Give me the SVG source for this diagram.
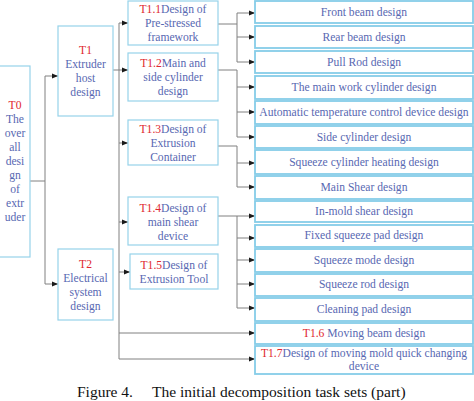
<svg xmlns="http://www.w3.org/2000/svg" width="474" height="401" viewBox="0 0 474 401">
<style>
text{font-family:"Liberation Serif","Times New Roman",serif;font-size:11.6px;fill:#5868b2;text-anchor:middle}
.r{fill:#e0282e}
.lb{fill:#fff;stroke:#96d3ea;stroke-width:1.2}
.rb{fill:#fff;stroke:#86cde8;stroke-width:1.8}
.c{fill:none;stroke:#808080;stroke-width:1}
.cap{fill:#111;font-size:15.5px;text-anchor:start}
</style>
<defs>
<marker id="a" markerUnits="userSpaceOnUse" markerWidth="6" markerHeight="6" refX="6" refY="3" orient="auto">
<path d="M0,0.5 L6,3 L0,5.5 z" fill="#1a1a1a"/>
</marker>
</defs>
<rect width="474" height="401" fill="#fff"/>
<g id="connectors">
<path class="c" d="M30,181 H45 M45,76 V284"/>
<path class="c" marker-end="url(#a)" d="M45,76 H58"/>
<path class="c" marker-end="url(#a)" d="M45,284 H58"/>
<path class="c" d="M113,70 H119 M119,23 V359"/>
<path class="c" marker-end="url(#a)" d="M119,23 H128"/>
<path class="c" marker-end="url(#a)" d="M119,70 H128"/>
<path class="c" marker-end="url(#a)" d="M119,143 H128"/>
<path class="c" marker-end="url(#a)" d="M119,222 H128"/>
<path class="c" marker-end="url(#a)" d="M119,272 H130"/>
<path class="c" marker-end="url(#a)" d="M119,333 H255"/>
<path class="c" marker-end="url(#a)" d="M119,359 H255"/>
<path class="c" d="M218,24 H237 M237,13 V62"/>
<path class="c" marker-end="url(#a)" d="M237,13 H255"/>
<path class="c" marker-end="url(#a)" d="M237,37 H255"/>
<path class="c" marker-end="url(#a)" d="M237,62 H255"/>
<path class="c" d="M218,70 H237 V137"/>
<path class="c" marker-end="url(#a)" d="M237,87 H255"/>
<path class="c" marker-end="url(#a)" d="M237,112 H255"/>
<path class="c" marker-end="url(#a)" d="M237,137 H255"/>
<path class="c" d="M218,146 H237 V187"/>
<path class="c" marker-end="url(#a)" d="M237,163 H255"/>
<path class="c" marker-end="url(#a)" d="M237,187 H255"/>
<path class="c" d="M237,216 V308"/>
<path class="c" marker-end="url(#a)" d="M218,216 H255"/>
<path class="c" marker-end="url(#a)" d="M237,238 H255"/>
<path class="c" marker-end="url(#a)" d="M237,260 H255"/>
<path class="c" marker-end="url(#a)" d="M237,284 H255"/>
<path class="c" marker-end="url(#a)" d="M237,308 H255"/>
</g>
<g id="T0">
<rect class="lb" x="-1" y="66" width="31" height="191"/>
<text x="15" y="109"><tspan class="r">T0</tspan></text>
<text x="15" y="123">The</text>
<text x="15" y="137">over</text>
<text x="15" y="151">all</text>
<text x="15" y="165">desi</text>
<text x="15" y="179">gn</text>
<text x="15" y="193">of</text>
<text x="15" y="207">extr</text>
<text x="15" y="221">uder</text>
</g>
<g id="T1">
<rect class="lb" x="58" y="26" width="55" height="90"/>
<text x="85.5" y="54"><tspan class="r">T1</tspan></text>
<text x="85.5" y="68">Extruder</text>
<text x="85.5" y="82">host</text>
<text x="85.5" y="96">design</text>
</g>
<g id="T2">
<rect class="lb" x="58" y="249" width="55" height="71"/>
<text x="85.5" y="268"><tspan class="r">T2</tspan></text>
<text x="85.5" y="282">Electrical</text>
<text x="85.5" y="296">system</text>
<text x="85.5" y="310">design</text>
</g>
<g id="T1_1">
<rect class="lb" x="128" y="1" width="90" height="44"/>
<text x="173" y="13"><tspan class="r">T1.1</tspan>Design of</text>
<text x="173" y="27">Pre-stressed</text>
<text x="173" y="41">framework</text>
</g>
<g id="T1_2">
<rect class="lb" x="128" y="53" width="90" height="48"/>
<text x="173" y="67"><tspan class="r">T1.2</tspan>Main and</text>
<text x="173" y="81">side cylinder</text>
<text x="173" y="95">design</text>
</g>
<g id="T1_3">
<rect class="lb" x="128" y="120" width="90" height="45"/>
<text x="173" y="133"><tspan class="r">T1.3</tspan>Design of</text>
<text x="173" y="147">Extrusion</text>
<text x="173" y="161">Container</text>
</g>
<g id="T1_4">
<rect class="lb" x="128" y="197" width="90" height="48"/>
<text x="173" y="212"><tspan class="r">T1.4</tspan>Design of</text>
<text x="173" y="226">main shear</text>
<text x="173" y="240">device</text>
</g>
<g id="T1_5">
<rect class="lb" x="130" y="254" width="88" height="35"/>
<text x="174" y="269"><tspan class="r">T1.5</tspan>Design of</text>
<text x="174" y="283">Extrusion Tool</text>
</g>
<g id="R1"><rect class="rb" x="255" y="1" width="218" height="22"/><text x="364" y="16">Front beam design</text></g>
<g id="R2"><rect class="rb" x="255" y="26" width="218" height="22"/><text x="364" y="41">Rear beam design</text></g>
<g id="R3"><rect class="rb" x="255" y="51" width="218" height="22"/><text x="364" y="66">Pull Rod design</text></g>
<g id="R4"><rect class="rb" x="255" y="76" width="218" height="23"/><text x="364" y="91">The main work cylinder design</text></g>
<g id="R5"><rect class="rb" x="255" y="101" width="218" height="23"/><text x="364" y="116">Automatic temperature control device design</text></g>
<g id="R6"><rect class="rb" x="255" y="126" width="218" height="22"/><text x="364" y="141">Side cylinder design</text></g>
<g id="R7"><rect class="rb" x="255" y="150" width="218" height="24"/><text x="364" y="166">Squeeze cylinder heating design</text></g>
<g id="R8"><rect class="rb" x="255" y="176" width="218" height="23"/><text x="364" y="191">Main Shear design</text></g>
<g id="R9"><rect class="rb" x="255" y="201" width="218" height="21"/><text x="364" y="215">In-mold shear design</text></g>
<g id="R10"><rect class="rb" x="255" y="225" width="218" height="22"/><text x="364" y="239">Fixed squeeze pad design</text></g>
<g id="R11"><rect class="rb" x="255" y="249" width="218" height="23"/><text x="364" y="264">Squeeze mode design</text></g>
<g id="R12"><rect class="rb" x="255" y="274" width="218" height="22"/><text x="364" y="288">Squeeze rod design</text></g>
<g id="R13"><rect class="rb" x="255" y="298" width="218" height="23"/><text x="364" y="313">Cleaning pad design</text></g>
<g id="T1_6"><rect class="rb" x="255" y="323" width="218" height="21"/><text x="364" y="337"><tspan class="r">T1.6</tspan> Moving beam design</text></g>
<g id="T1_7"><rect class="rb" x="255" y="346" width="218" height="28"/><text x="364" y="357"><tspan class="r">T1.7</tspan>Design of moving mold quick changing</text><text x="364" y="370">device</text></g>
<text class="cap" x="77" y="397">Figure 4.</text>
<text class="cap" x="152" y="397">The initial decomposition task sets (part)</text>
</svg>
